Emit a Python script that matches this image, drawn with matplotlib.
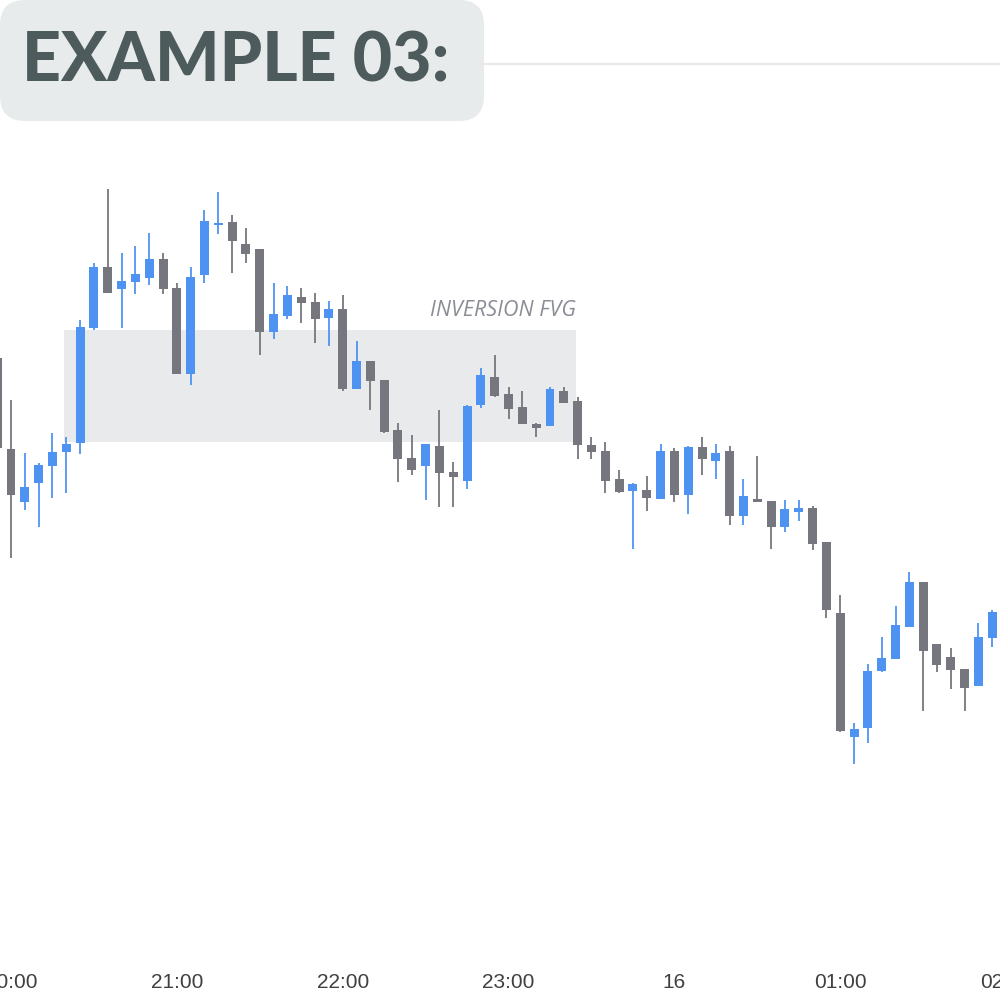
import matplotlib
matplotlib.use("Agg")
import matplotlib.pyplot as plt
from matplotlib.patches import Rectangle, FancyBboxPatch
from matplotlib.transforms import blended_transform_factory
import numpy as np
import pandas as pd

# 5 minute candles, 19:55 -> 02:00
times = pd.date_range("2024-01-15 19:55", periods=74, freq="5min")
opens = [642, 551, 498, 517, 534, 548, 557, 672, 733, 711, 718, 722, 741, 712, 626, 725, 775, 778, 756,
         751, 668, 684, 703, 698, 682, 691, 611, 639, 620, 570, 542, 534, 554, 528, 519, 595, 623, 606,
         593, 576, 574, 609, 599, 555, 549, 521, 509, 510, 501, 549, 505, 553, 539, 549, 484, 501, 499,
         473, 488, 492, 458, 387, 263, 272, 329, 341, 373, 418, 356, 343, 331, 314, 362, 388]
highs = [645, 600, 547, 537, 567, 563, 680, 737, 811, 747, 754, 767, 747, 717, 733, 790, 808, 785, 772,
         751, 717, 714, 712, 707, 699, 705, 659, 639, 620, 577, 565, 556, 590, 538, 595, 632, 645, 613,
         609, 577, 613, 613, 603, 563, 558, 530, 517, 524, 556, 552, 554, 563, 556, 554, 521, 544, 499,
         500, 500, 494, 458, 405, 277, 336, 363, 394, 428, 418, 356, 352, 331, 377, 390, 440]
lows = [550, 442, 490, 473, 502, 507, 546, 670, 707, 672, 706, 715, 706, 626, 615, 717, 766, 727, 737,
        645, 661, 681, 677, 657, 654, 609, 611, 590, 567, 518, 525, 500, 493, 493, 511, 592, 603, 581,
        576, 563, 574, 597, 541, 541, 507, 507, 451, 489, 501, 498, 486, 525, 521, 475, 475, 498, 451,
        468, 479, 450, 382, 268, 236, 257, 328, 341, 373, 289, 328, 311, 289, 314, 353, 385]
closes = [552, 505, 513, 535, 548, 556, 673, 733, 707, 719, 726, 741, 711, 626, 723, 779, 777, 759, 746,
          668, 686, 705, 697, 681, 691, 611, 639, 619, 568, 541, 530, 556, 527, 523, 594, 625, 604, 591,
          576, 572, 611, 597, 555, 548, 519, 508, 516, 502, 549, 505, 553, 541, 547, 484, 504, 498, 473,
          491, 492, 456, 390, 269, 271, 329, 342, 375, 418, 349, 335, 330, 312, 363, 388, 420]

# inversion fair value gap zone
fvg_start = pd.Timestamp("2024-01-15 20:19")
fvg_end = pd.Timestamp("2024-01-15 23:24:30")
fvg_top = 670
fvg_bottom = 558
fvg_label = "INVERSION FVG"

title = "EXAMPLE 03:"

up_color = "#4f93f2"
down_color = "#76767e"

fig = plt.figure(figsize=(10, 10), dpi=100)
fig.patch.set_facecolor("white")

# title badge and thin rule
fig.add_artist(plt.Line2D([0.48, 1.0], [0.936, 0.936], color="#e8e8e8", lw=1.6))
badge = FancyBboxPatch((0.0, 0.879), 0.484, 0.121, boxstyle="round,pad=0,rounding_size=0.025",
                       transform=fig.transFigure, facecolor="#e8ebeb", edgecolor="none")
fig.add_artist(badge)
fig.text(0.022, 0.918, title, fontsize=49, fontweight="black", family=["Lato", "DejaVu Sans"],
         color="#4e5b5c", ha="left", va="baseline")

ax = fig.add_axes([0, 0.035, 1, 0.965])
pos = np.arange(len(times))
o = np.array(opens); h = np.array(highs); l = np.array(lows); c = np.array(closes)
up = c >= o
cols = np.where(up, up_color, down_color)

# zone
t0 = times[0]
step = pd.Timedelta("5min")
x0 = (fvg_start - t0) / step
x1 = (fvg_end - t0) / step
ax.add_patch(Rectangle((x0, fvg_bottom), x1 - x0, fvg_top - fvg_bottom, facecolor="#e9eaec",
                       edgecolor="none", zorder=0))
ax.text(x1, fvg_top + 9, fvg_label, ha="right", va="bottom", fontsize=15.5, style="italic",
        family="Open Sans", color="#8a8d94")

ax.vlines(pos, l, h, colors=cols, lw=1.3, zorder=2)
body_h = np.maximum(np.abs(c - o), 2)
ax.bar(pos, body_h, bottom=np.minimum(o, c), width=0.65, color=cols, zorder=3)

ax.set_xlim(0.204, 72.56)
ax.set_ylim(35, 1000)
ax.axis("off")

# hourly labels under the chart
tr = blended_transform_factory(ax.transData, fig.transFigure)
for i, t in enumerate(times):
    if t.minute == 0:
        lab = str(t.day) if t.hour == 0 else t.strftime("%H:%M")
        ax.text(i, 0.017, lab, transform=tr, ha="center", va="center", fontsize=15,
                family="Liberation Sans", color="#404040", clip_on=False)

fig.savefig("out.png", dpi=100)
